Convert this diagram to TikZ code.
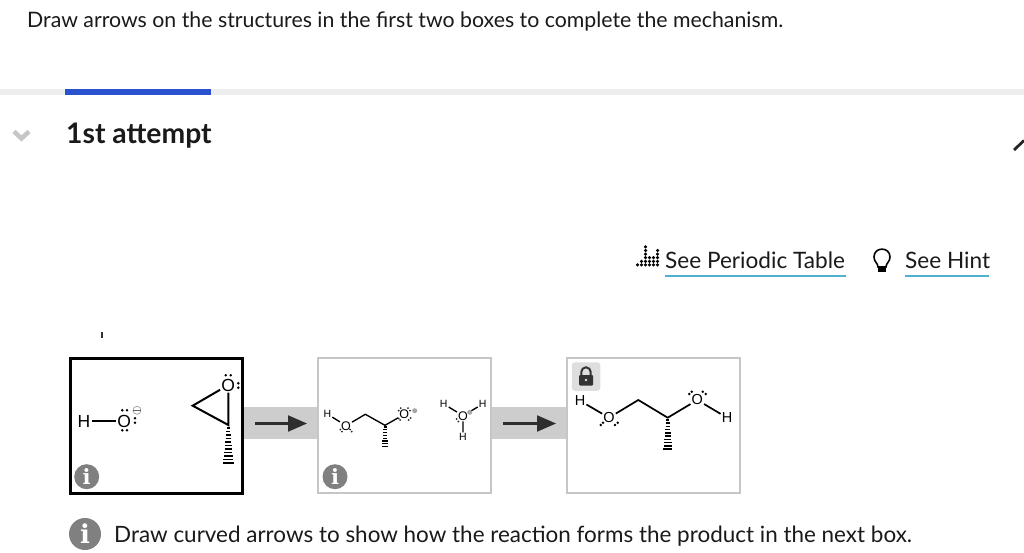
\documentclass[tikz,border=0pt]{standalone}
\usepackage{fontspec}
\setmainfont{Lato}
\newfontfamily\chemfont{Liberation Sans}
\newfontfamily\infofont{DejaVu Serif}
\usetikzlibrary{calc,arrows.meta}
\definecolor{barg}{HTML}{EDEDED}
\definecolor{blueb}{HTML}{2A52CE}
\definecolor{boxg}{HTML}{C6C6C6}
\definecolor{flowg}{HTML}{CDCDCD}
\definecolor{infog}{HTML}{808080}
\definecolor{linkb}{HTML}{4FB0CF}
\definecolor{txt}{HTML}{1A1A1A}
\tikzset{
  txtnode/.style={anchor=base west,inner sep=0pt,text=txt},
  atomA/.style={inner sep=1.2pt,font=\chemfont\fontsize{17.5}{17}\selectfont},
  atomB/.style={inner sep=1pt,font=\chemfont\fontsize{10.5}{11}\selectfont},
  atomBO/.style={inner sep=1pt,font=\chemfont\fontsize{12.5}{13}\selectfont},
  atomC/.style={inner sep=1pt,font=\chemfont\fontsize{14.5}{14}\selectfont},
  bondA/.style={line width=2pt},
  bondB/.style={line width=1.35pt},
  bondC/.style={line width=1.7pt},
  flowbar/.style={fill=flowg,draw=none,minimum width=76pt,minimum height=31.5pt,inner sep=0pt},
  flowarrow/.style={draw=black!82,line width=2.2pt,-{Triangle[length=19pt,width=16pt,fill=black!82]}},
  panel/.style={draw=boxg,line width=2.2pt,fill=white,minimum width=173pt,minimum height=135pt,inner sep=0pt},
  infoicon/.style={circle,fill=infog,text=white,inner sep=0pt},
}
\newcommand{\hashw}[6]{% x, y-start, y-end, half width, lines, thickness
  \pgfmathsetmacro{\nn}{#5-1}
  \foreach \k in {0,...,\nn}{
    \pgfmathsetmacro{\tq}{\k/\nn}
    \pgfmathsetmacro{\yy}{#2+(#3-#2)*\tq}
    \pgfmathsetmacro{\ww}{1.5+(#4-1.5)*\tq}
    \draw[line width=#6,black] (#1-\ww,\yy)--(#1+\ww,\yy);
  }
}
\newcommand{\edots}[1]{\foreach \a/\b in {#1}{\fill[black] (\a,\b) circle (1.4pt);}}
\newcommand{\sdots}[1]{\foreach \a/\b in {#1}{\fill[black!85] (\a,\b) circle (1pt);}}
\begin{document}
\begin{tikzpicture}[x=1pt,y=-1pt]
\useasboundingbox (0,0) rectangle (1024,553);
\fill[white] (0,0) rectangle (1024,553);
% header
\node[txtnode,font=\fontsize{21.3}{21}\selectfont] (title) at (27,27.5) {Draw arrows on the structures in the first two boxes to complete the mechanism.};
\fill[barg] (0,89) rectangle (1024,95);
\fill[blueb] (65,89) rectangle (211,95.3);
\draw[boxg,line width=4.5pt] (14,131.5)--(21.5,138.5)--(29,131.5);
\node[txtnode,font=\bfseries\fontsize{28.3}{28}\selectfont] (attempt) at (66,143.5) {1st attempt};
\draw[black!85,line width=2.8pt] (1014,150)--(1024,140.5);
\draw[black!80,line width=1.3pt] (102,332)--(102,338);
% links
\foreach \cx/\top in {0/1,1/2,2/6,3/3,4/3,5/5}{
  \foreach \r in {1,...,\top}{
    \fill[black] (637.5+\cx*4,268.5-\r*3.6) circle (1.75pt);
  }
}
\node[txtnode,font=\fontsize{22.6}{23}\selectfont] (pt) at (665,268) {See Periodic Table};
\draw[linkb,line width=2.2pt] (665,276)--(845.5,276);
\draw[black,line width=1.6pt] (878,267)..controls (878,263) and (874,262) ..(874,257)
   ..controls (874,246.5) and (890,246.5) ..(890,257)..controls (890,262) and (886,263) ..(886,267)--cycle;
\fill[black] (878,267) rectangle (886,272);
\node[txtnode,font=\fontsize{22.6}{23}\selectfont] (hint) at (905,268) {See Hint};
\draw[linkb,line width=2.2pt] (905,276)--(989,276);
% flow bars
\node[flowbar] (bar1) at (280.5,423) {};
\node[flowbar] (bar2) at (529,423) {};
% panels
\node[panel,draw=black,line width=3pt,minimum width=172pt] (p1) at (156.2,425.5) {};
\node[panel] (p2) at (404.7,425.5) {};
\node[panel] (p3) at (653.5,425.5) {};
\coordinate (a1s) at (255,423.5);\coordinate (a1e) at (307,423.5);
\coordinate (a2s) at (503,423.5);\coordinate (a2e) at (556,423.5);
\draw[flowarrow] (a1s)--(a1e);
\draw[flowarrow] (a2s)--(a2e);
% hydroxide
\node[atomA] (h1) at (84,421) {H};
\node[atomA] (o1) at (124.3,421) {O};
\draw[bondA] (h1)--(o1);
\edots{122.3/410.3,127/410.3,122.3/430.3,127/430.3,135/418.3,135/422.7}
\node[circle,draw=black!45,line width=.6pt,inner sep=0pt,minimum size=8pt] (m1) at (137,410.3) {};
\draw[black!60,line width=.8pt] (m1.west)--(m1.east);
% epoxide
\node[atomA] (o2) at (228.3,385) {O};
\coordinate (c1) at (192.7,405.7);
\coordinate (c2) at (228.3,425);
\draw[bondA,line join=miter] (o2)--(c1)--(c2)--(o2);
\edots{225.7/375.3,230.7/375.3,238.3/383.3,238.3/387.7}
\hashw{228.3}{428}{463}{5.3}{11}{1.7pt}
% panel 2: diol
\node[atomB] (h2) at (327.3,414) {H};
\node[atomBO] (o3) at (346,425.7) {O};
\coordinate (c3) at (365.3,414.3);
\coordinate (c4) at (385,425.3);
\node[atomBO] (o4) at (404.3,414.3) {O};
\draw[bondB] (h2)--(o3)--(c3)--(c4)--(o4);
\sdots{340.3/429.5,342/431.7,351.7/431.7,350/429.5,398.7/410.7,400.7/408.2,408/408.2,410/410.7,408.7/420,410.5/418,398.5/418.5,400/420}
\hashw{385}{427}{446.7}{3}{8}{1.2pt}
\node[circle,fill=black!35,inner sep=0pt,minimum size=5pt] (pl1) at (414.7,410.7) {};
% hydronium
\node[atomBO] (o5) at (463,415.7) {O};
\node[atomB] (h3) at (443.7,404) {H};
\node[atomB] (h4) at (482.7,404) {H};
\node[atomB] (h5) at (463,437.3) {H};
\draw[bondB] (h3)--(o5) (h4)--(o5) (h5)--(o5);
\sdots{456.7/419,458.3/421.5}
\node[circle,fill=black!35,inner sep=0pt,minimum size=5pt] (pl2) at (469.7,412.3) {};
% panel 3: product
\node[atomC] (h6) at (580,400.7) {H};
\node[atomC] (o6) at (609,417.7) {O};
\coordinate (c5) at (638.3,400);
\coordinate (c6) at (667.7,417.7);
\node[atomC] (o7) at (697.3,400) {O};
\node[atomC] (h7) at (727,417.7) {H};
\draw[bondC] (h6)--(o6)--(c5)--(c6)--(o7)--(h7);
\edots{600.7/425,603/422.7,615/425,617.7/422.7,689.3/394,691.7/391.7,702.7/391.7,705.7/394}
\hashw{667.7}{420}{449}{4.5}{10}{1.5pt}
% lock
\node[fill=black!13,rounded corners=3pt,minimum width=28.5pt,minimum height=28.5pt,inner sep=0pt] (lock) at (586,376.5) {};
\fill[black!80,rounded corners=1pt] (579,375) rectangle (593,385.5);
\draw[black!80,line width=2pt] (581.3,375)--(581.3,372) arc (180:360:4.7)--(590.7,375);
\fill[black!13] (586,380) circle (1.4pt);
% info icons
\node[infoicon,minimum size=25pt,font=\infofont\bfseries\fontsize{21}{21}\selectfont] (i1) at (86.7,476.7) {i};
\node[infoicon,minimum size=25pt,font=\infofont\bfseries\fontsize{21}{21}\selectfont] (i2) at (335,476.7) {i};
\node[infoicon,minimum size=32pt,font=\infofont\bfseries\fontsize{26}{26}\selectfont] (i3) at (85,534) {i};
\node[txtnode,font=\fontsize{22.45}{23}\selectfont] (note) at (114,542) {Draw curved arrows to show how the reaction forms the product in the next box.};
\end{tikzpicture}
\end{document}
